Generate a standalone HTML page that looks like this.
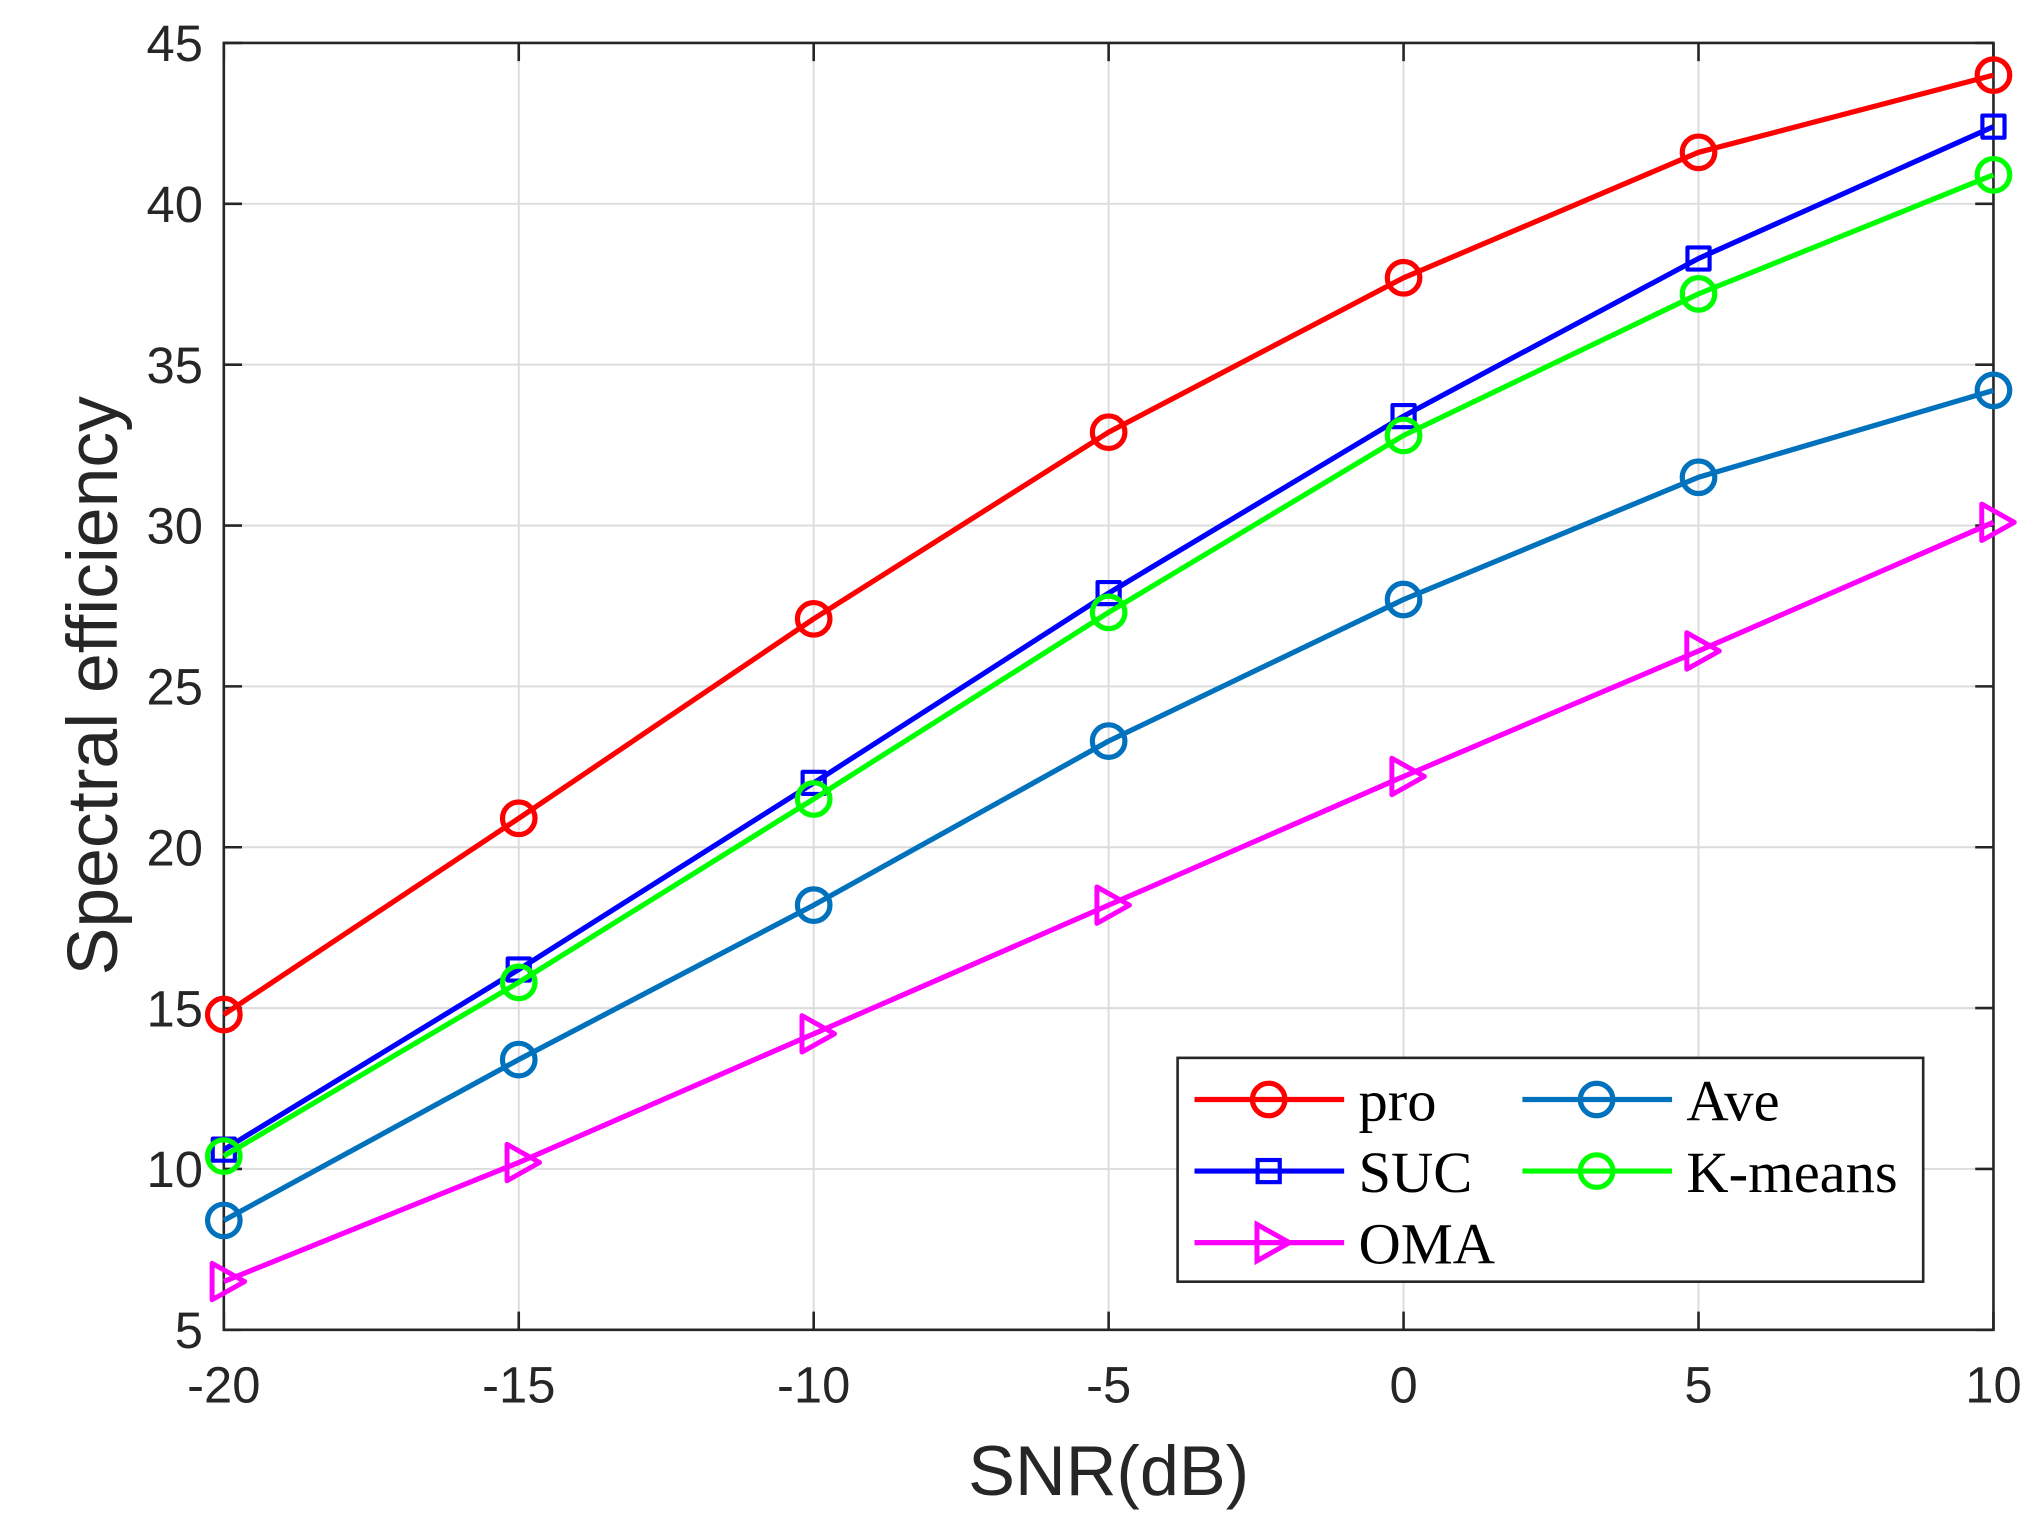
<!DOCTYPE html>
<html><head><meta charset="utf-8"><style>
html,body{margin:0;padding:0;background:#fff;}
svg{display:block;}
</style></head><body>
<svg width="2039" height="1525" viewBox="0 0 1567 1172" preserveAspectRatio="none" xmlns="http://www.w3.org/2000/svg">
<rect x="0" y="0" width="1567" height="1172" fill="#fff"/>
<g id="grid" stroke="#dcdcdc" stroke-width="1.5"></g>
<g id="axes"></g>
<g id="series" fill="none" stroke-width="4" stroke-linejoin="round"></g>
<g id="legend"></g>
<g font-family="Liberation Sans, Arial, sans-serif" fill="#262626">
<text x="852" y="1149" font-size="54" text-anchor="middle">SNR(dB)</text>
<text transform="translate(90,527) rotate(-90)" font-size="55" text-anchor="middle">Spectral efficiency</text>
</g>
<script>
(function(){
var NS="http://www.w3.org/2000/svg";
function el(p,t,a,txt){var e=document.createElementNS(NS,t);for(var k in a)e.setAttribute(k,a[k]);if(txt!==undefined)e.textContent=txt;p.appendChild(e);return e;}
var L=172,R=1532,T=33,B=1022;
function X(v){return L+(v+20)*(R-L)/30;}
function Y(v){return B-(v-5)*(B-T)/40;}
var grid=document.getElementById('grid'),axes=document.getElementById('axes');
for(var x=-15;x<10;x+=5)el(grid,'line',{x1:X(x),x2:X(x),y1:T,y2:B});
for(var y=10;y<45;y+=5)el(grid,'line',{x1:L,x2:R,y1:Y(y),y2:Y(y)});
el(axes,'rect',{x:L,y:T,width:R-L,height:B-T,fill:'none',stroke:'#262626','stroke-width':2});
for(var x=-20;x<=10;x+=5){
 el(axes,'line',{x1:X(x),x2:X(x),y1:B,y2:B-14,stroke:'#262626','stroke-width':2});
 el(axes,'line',{x1:X(x),x2:X(x),y1:T,y2:T+14,stroke:'#262626','stroke-width':2});
 el(axes,'text',{x:X(x),y:1078,'font-size':39,'text-anchor':'middle','font-family':'Liberation Sans, Arial, sans-serif',fill:'#262626'},String(x));
}
for(var y=5;y<=45;y+=5){
 el(axes,'line',{x1:L,x2:L+14,y1:Y(y),y2:Y(y),stroke:'#262626','stroke-width':2});
 el(axes,'line',{x1:R,x2:R-14,y1:Y(y),y2:Y(y),stroke:'#262626','stroke-width':2});
 el(axes,'text',{x:156,y:Y(y)+14,'font-size':39,'text-anchor':'end','font-family':'Liberation Sans, Arial, sans-serif',fill:'#262626'},String(y));
}
var S=[
 {c:'#ff0000',m:'o',d:[14.8,20.9,27.1,32.9,37.7,41.6,44.0]},
 {c:'#0072bd',m:'o',d:[8.4,13.4,18.2,23.3,27.7,31.5,34.2]},
 {c:'#ff00ff',m:'t',d:[6.5,10.2,14.2,18.2,22.2,26.1,30.1]},
 {c:'#0000ff',m:'s',d:[10.6,16.2,22.0,27.9,33.4,38.3,42.4]},
 {c:'#00ff00',m:'o',d:[10.4,15.8,21.5,27.3,32.8,37.2,40.9]}
];
var g=document.getElementById('series');
function marker(p,m,cx,cy,c){
 if(m==='o')el(p,'circle',{cx:cx,cy:cy,r:12.5,stroke:c,fill:'none','stroke-width':4});
 else if(m==='s')el(p,'rect',{x:cx-8.5,y:cy-8.5,width:17,height:17,stroke:c,fill:'none','stroke-width':3.2});
 else el(p,'polygon',{points:(cx-9)+','+(cy-14)+' '+(cx+16)+','+cy+' '+(cx-9)+','+(cy+14),stroke:c,fill:'none','stroke-width':3.8});
}
S.forEach(function(s){
 var pts=s.d.map(function(v,i){return X(-20+5*i)+','+Y(v);}).join(' ');
 el(g,'polyline',{points:pts,stroke:s.c});
 s.d.forEach(function(v,i){marker(g,s.m,X(-20+5*i),Y(v),s.c);});
});
var lg=document.getElementById('legend');
el(lg,'rect',{x:905,y:813,width:573,height:172,fill:'#fff',stroke:'#262626','stroke-width':2});
var items=[[918,845,'#ff0000','o','pro'],[918,900,'#0000ff','s','SUC'],[918,955,'#ff00ff','t','OMA'],[1170,845,'#0072bd','o','Ave'],[1170,900,'#00ff00','o','K-means']];
items.forEach(function(it){
 el(lg,'line',{x1:it[0],x2:it[0]+115,y1:it[1],y2:it[1],stroke:it[2],'stroke-width':4});
 marker(lg,it[3],it[0]+57,it[1],it[2]);
 el(lg,'text',{x:it[0]+126,y:it[1]+16,'font-size':45,'font-family':'Liberation Serif, Times New Roman, serif',fill:'#000'},it[4]);
});
})();
</script>
</svg>
</body></html>
